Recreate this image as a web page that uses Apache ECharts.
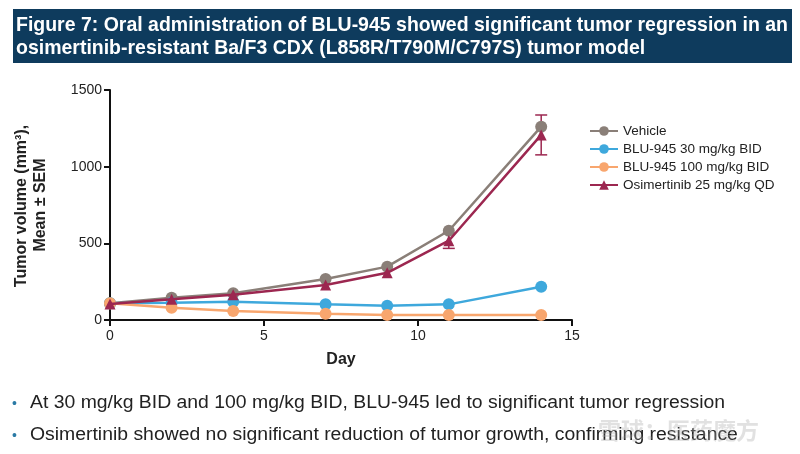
<!DOCTYPE html>
<html><head><meta charset="utf-8">
<script src="https://cdn.jsdelivr.net/npm/echarts@6/dist/echarts.min.js"></script>
<style>html,body{margin:0;padding:0;background:#fff}#c{width:800px;height:454px}</style>
</head><body><div id="c"></div>
<script>
const days = [0, 2, 4, 7, 9, 11, 14];
const vehicle = [110, 145, 174, 267, 348, 582, 1261];
const blu30 = [110, 113, 119, 102, 93, 102, 217];
const blu100 = [110, 80, 59, 41, 33, 32, 32];
const osim = [105, 135, 165, 228, 308, 517, 1207];
const osimSem = [0, 0, 0, 0, 0, 50, 130];
const xTicks = [0, 5, 10, 15];
const yTicks = [0, 500, 1000, 1500];
const names = ['Vehicle', 'BLU-945 30 mg/kg BID', 'BLU-945 100 mg/kg BID', 'Osimertinib 25 mg/kg QD'];
const colors = ['#8a7f78', '#3ea8dc', '#f8a66e', '#9c2750'];
const titleLines = ['Figure 7: Oral administration of BLU-945 showed significant tumor regression in an',
  'osimertinib-resistant Ba/F3 CDX (L858R/T790M/C797S) tumor model'];
const bullets = ['At 30 mg/kg BID and 100 mg/kg BID, BLU-945 led to significant tumor regression',
  'Osimertinib showed no significant reduction of tumor growth, confirming resistance'];

const pairs = a => days.map((d, i) => [d, a[i]]);
const errData = days.map((d, i) => [d, osim[i] - osimSem[i], osim[i] + osimSem[i]]).filter((r, i) => osimSem[i] > 0);

const titleFont = 'bold 21px "Liberation Sans", Arial, sans-serif';
const bulletFont = '17.5px "Liberation Sans", Arial, sans-serif';
const mctx = document.createElement('canvas').getContext('2d');
function widthOf(text, f) { mctx.font = f; return mctx.measureText(text).width; }
const titleScale = 772 / widthOf(titleLines[0], titleFont);
const bulletScale = 695 / widthOf(bullets[0], bulletFont);

const chart = echarts.init(document.getElementById('c'), null, {renderer: 'canvas'});
const font = 'Liberation Sans, Arial, sans-serif';
function line(i, data, symbol, size) {
  return {name: names[i], type: 'line', data: pairs(data), symbol: symbol, symbolSize: size,
    showSymbol: true, lineStyle: {color: colors[i], width: 2.5}, itemStyle: {color: colors[i]},
    z: 2 + i, animation: false};
}
chart.setOption({
  animation: false,
  textStyle: {fontFamily: font},
  graphic: [
    {type: 'rect', shape: {x: 13, y: 9, width: 779, height: 54}, style: {fill: '#0e3b5d'}},
    {type: 'text', x: 16, y: 25, scaleX: titleScale, style: {text: titleLines[0], fill: '#fff', font: titleFont, verticalAlign: 'middle'}},
    {type: 'text', x: 16, y: 48, scaleX: titleScale, style: {text: titleLines[1], fill: '#fff', font: titleFont, verticalAlign: 'middle'}},
    {type: 'text', x: 12, y: 404, style: {text: '•', fill: '#2a7aa5', font: '14px Liberation Sans', verticalAlign: 'middle'}},
    {type: 'text', x: 30, y: 403, scaleX: bulletScale, style: {text: bullets[0], fill: '#222', font: bulletFont, verticalAlign: 'middle'}},
    {type: 'text', x: 12, y: 436, style: {text: '•', fill: '#2a7aa5', font: '14px Liberation Sans', verticalAlign: 'middle'}},
    {type: 'text', x: 30, y: 435, scaleX: bulletScale, style: {text: bullets[1], fill: '#222', font: bulletFont, verticalAlign: 'middle'}},
    {type: 'text', x: 598, y: 430, z: 100, style: {text: '雪球：医药魔方', fill: 'rgba(170,170,170,0.35)', font: 'bold 23px "Noto Sans CJK SC"', verticalAlign: 'middle'}},
    {type: 'text', x: 22, y: 206, rotation: Math.PI / 2, style: {text: 'Tumor volume (mm³),', fill: '#222', align: 'center', verticalAlign: 'middle', font: 'bold 16px "Liberation Sans", Arial, sans-serif'}},
    {type: 'text', x: 41, y: 205, rotation: Math.PI / 2, style: {text: 'Mean ± SEM', fill: '#222', align: 'center', verticalAlign: 'middle', font: 'bold 16px "Liberation Sans", Arial, sans-serif'}}
  ],
  legend: {
    orient: 'vertical', left: 584, top: 119, itemGap: 4, itemWidth: 28, itemHeight: 12,
    data: names, textStyle: {fontSize: 13.5, color: '#222', fontFamily: font}
  },
  grid: {left: 110, right: 228, top: 90, bottom: 134},
  xAxis: {
    type: 'value', min: 0, max: 15, interval: 5,
    name: 'Day', nameLocation: 'middle', nameGap: 32,
    nameTextStyle: {fontWeight: 'bold', fontSize: 16, color: '#222'},
    axisLine: {lineStyle: {color: '#111', width: 2}},
    axisTick: {show: true, length: 6, lineStyle: {color: '#111', width: 2}},
    axisLabel: {fontSize: 14, color: '#222', margin: 9, formatter: v => xTicks.includes(v) ? String(v) : ''},
    splitLine: {show: false}
  },
  yAxis: {
    type: 'value', min: 0, max: 1500, interval: 500,
    axisLine: {show: true, lineStyle: {color: '#111', width: 2}},
    axisTick: {show: true, length: 6, lineStyle: {color: '#111', width: 2}},
    axisLabel: {fontSize: 14, color: '#222', margin: 8, formatter: v => yTicks.includes(v) ? String(v) : ''},
    splitLine: {show: false}
  },
  series: [
    line(0, vehicle, 'circle', 12),
    line(1, blu30, 'circle', 12),
    line(2, blu100, 'circle', 12),
    line(3, osim, 'triangle', 11),
    {
      type: 'custom', name: 'sem', z: 1, silent: true,
      data: errData,
      renderItem: function (params, api) {
        const x = api.coord([api.value(0), 0])[0];
        const lo = api.coord([api.value(0), api.value(1)])[1];
        const hi = api.coord([api.value(0), api.value(2)])[1];
        const st = {stroke: colors[3], lineWidth: 1.5};
        return {type: 'group', children: [
          {type: 'line', shape: {x1: x, y1: lo, x2: x, y2: hi}, style: st},
          {type: 'line', shape: {x1: x - 6, y1: lo, x2: x + 6, y2: lo}, style: st},
          {type: 'line', shape: {x1: x - 6, y1: hi, x2: x + 6, y2: hi}, style: st}
        ]};
      }
    }
  ]
});
</script></body></html>
